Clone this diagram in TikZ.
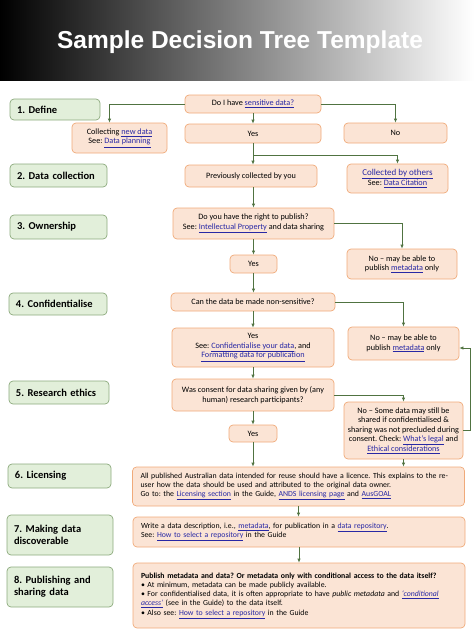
\documentclass[tikz,border=0pt]{standalone}
\usepackage{fontspec}
\setmainfont{Carlito}
\newfontfamily\headfont{Liberation Sans}
\usetikzlibrary{arrows.meta}
\definecolor{boxfill}{RGB}{251,228,213}
\definecolor{boxline}{RGB}{240,170,122}
\definecolor{lblfill}{RGB}{226,239,218}
\definecolor{lblline}{RGB}{140,170,125}
\definecolor{arrgreen}{RGB}{80,115,65}
\definecolor{linkblue}{RGB}{40,40,165}
\newcommand{\lnk}[1]{\textcolor{linkblue}{\underline{#1}}}

\begin{document}
\frenchspacing
\begin{tikzpicture}[x=1pt, y=-1pt,
  box/.style={draw=boxline, fill=boxfill, rounded corners=4pt, line width=0.7pt, align=center, inner sep=1pt, font=\fontsize{8.2}{9.5}\selectfont},
  wide/.style={box, align=left, inner xsep=8pt, text width=#1, font=\fontsize{7.8}{9.3}\selectfont},
  lbl/.style={draw=lblline, fill=lblfill, rounded corners=4pt, line width=0.7pt, align=left, inner xsep=7pt, inner ysep=1pt, font=\fontsize{10.5}{12}\selectfont\bfseries},
  arr/.style={draw=arrgreen, line width=0.7pt, -{Latex[length=4pt,width=3.5pt]}}]
\useasboundingbox (0,0) rectangle (474,635);
\shade [left color=black, right color=white] (0,0) rectangle (474,80);
\node [text=white, font=\headfont\bfseries\fontsize{24.5}{28}\selectfont] (title) at (240,42) {Sample Decision Tree Template};

\node [lbl, text width=76pt, minimum height=21pt] (define) at (55,109.5) {1. Define};
\node [lbl, text width=83pt, minimum height=23pt] (collection) at (58.5,175.5) {2. Data collection};
\node [lbl, text width=83pt, minimum height=24pt] (ownership) at (58.5,227) {3. Ownership};
\node [lbl, text width=84pt, minimum height=22pt] (confid) at (58,304) {4. Confidentialise};
\node [lbl, text width=86pt, minimum height=23pt] (ethics) at (59,392.5) {5. Research ethics};
\node [lbl, text width=89pt, minimum height=24pt] (licensing) at (59.5,476) {6. Licensing};
\node [lbl, text width=92pt, minimum height=40pt] (discover) at (60,535) {7. Making data\\discoverable};
\node [lbl, text width=92pt, minimum height=40pt] (sharing) at (60,587) {8. Publishing and\\sharing data};

\node [box, minimum width=136pt, minimum height=18pt] (have) at (253,104) {Do I have \lnk{sensitive data?}};
\node [box, minimum width=95pt, minimum height=30pt] (newdata) at (119.5,138) {Collecting \lnk{new data}\\See: \lnk{Data planning}};
\node [box, minimum width=136pt, minimum height=19pt] (yesa) at (253,133.5) {Yes};
\node [box, minimum width=103pt, minimum height=20pt] (noa) at (395.5,133) {No};
\node [box, minimum width=132pt, minimum height=22pt] (byyou) at (251,176) {Previously collected by you};
\node [box, minimum width=101pt, minimum height=29pt] (byothers) at (397.5,178.5) {{\fontsize{9}{10}\selectfont\lnk{Collected by others}}\\See: \lnk{Data Citation}};
\node [box, minimum width=161pt, minimum height=31pt] (rights) at (253.5,223.5) {Do you have the right to publish?\\See: \lnk{Intellectual Property} and data sharing};
\node [box, minimum width=110pt, minimum height=30pt] (nob) at (402,264) {No -- may be able to\\publish \lnk{metadata} only};
\node [box, minimum width=47pt, minimum height=18pt] (yesb) at (253.5,264) {Yes};
\node [box, minimum width=164pt, minimum height=18pt] (nonsens) at (253,302) {Can the data be made non-sensitive?};
\node [box, minimum width=111pt, minimum height=33pt] (noc) at (403.5,343.5) {No -- may be able to\\publish \lnk{metadata} only};
\node [box, minimum width=162pt, minimum height=39pt] (yesc) at (253,347.5) {Yes\\See: \lnk{Confidentialise your data}, and\\\lnk{Formatting data for publication}};
\node [box, minimum width=162pt, minimum height=32pt] (consent) at (253,395) {Was consent for data sharing given by (any\\human) research participants?};
\node [box, minimum width=119pt, minimum height=57pt] (nod) at (403.5,430.5) {No -- Some data may still be\\shared if confidentialised \&\\sharing was not precluded during\\consent. Check: \lnk{What's legal} and\\\lnk{Ethical considerations}};
\node [box, minimum width=48pt, minimum height=17pt] (yesd) at (253,433.5) {Yes};
\node [wide=316pt, minimum height=39pt] (licence) at (298.5,486.5) {All published Australian data intended for reuse should have a licence. This explains to the re-\\user how the data should be used and attributed to the original data owner.\\Go to: the \lnk{Licensing section} in the Guide, \lnk{ANDS licensing page} and \lnk{AusGOAL}};
\node [wide=316pt, minimum height=30pt] (describe) at (299,532) {Write a data description, i.e., \lnk{metadata}, for publication in a \lnk{data repository}.\\See: \lnk{How to select a repository} in the Guide};
\node [wide=316pt, minimum height=65pt] (publish) at (299,595.5) {\textbf{Publish metadata and data? Or metadata only with conditional access to the data itself?}\\\textbullet{} At minimum, metadata can be made publicly available.\\\textbullet{} For confidentialised data, it is often appropriate to have \textit{public metadata} and \lnk{\textit{`conditional}}\\\lnk{\textit{access'}} (see in the Guide) to the data itself.\\\textbullet{} Also see: \lnk{How to select a repository} in the Guide};

\draw [arr] (have.west) -| ([xshift=-10pt]newdata.north);
\draw [arr] (have.east) -| (noa.north);
\draw [arr] (have) -- (yesa);
\draw [arr] (yesa.south) -- (yesa.south |- byyou.north);
\draw [arr] (yesa.south) -- ++(0,11.5) -| (byothers.north);
\draw [arr] (byyou.south -| rights.north) -- (rights.north);
\draw [arr] (rights.east) -| (nob.north);
\draw [arr] (rights) -- (yesb);
\draw [arr] (yesb.south) -- (yesb.south |- nonsens.north);
\draw [arr] (nonsens.east) -| (noc.north);
\draw [arr] (nonsens) -- (yesc);
\draw [arr] (yesc) -- (consent);
\draw [arr] (consent.east) -| (nod.north);
\draw [arr] (consent) -- (yesd);
\draw [arr] (nod.east) -- ++(7,0) |- ([yshift=-4.5pt]noc.east);
\draw [arr] (yesd.south) -- (yesd.south |- licence.north);
\draw [arr] (nod.south) -- (nod.south |- licence.north);
\draw [arr] (licence.south) -- (licence.south |- describe.north);
\draw [arr] (describe.south) -- (describe.south |- publish.north);
\end{tikzpicture}
\end{document}
